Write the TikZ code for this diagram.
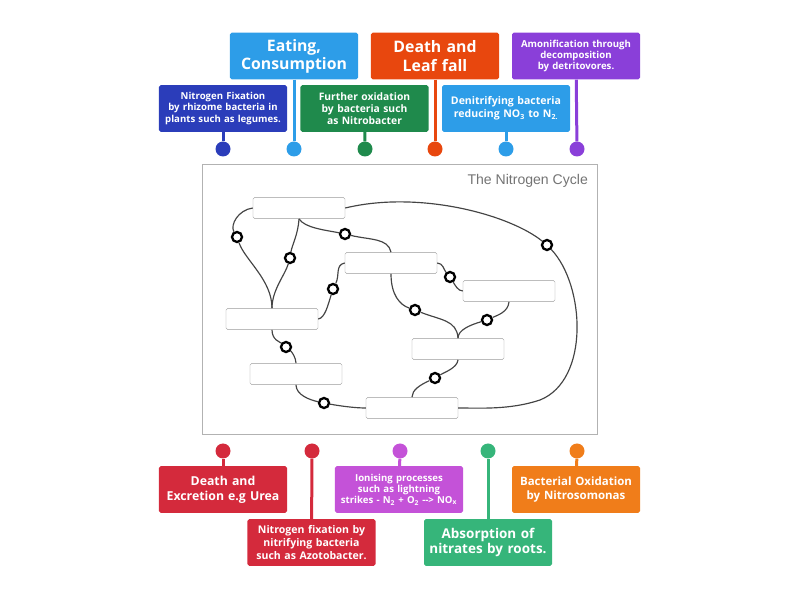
\documentclass[tikz,border=0pt]{standalone}
\usepackage{fontspec}
\setmainfont{Open Sans}
\newfontfamily\arialish{Liberation Sans}
\definecolor{navy}{HTML}{2B3DBA}
\definecolor{skyb}{HTML}{2D9DE8}
\definecolor{leaf}{HTML}{1F8A4C}
\definecolor{flame}{HTML}{E8470E}
\definecolor{violet}{HTML}{8A3FD9}
\definecolor{crimson}{HTML}{D42A3C}
\definecolor{orchid}{HTML}{C452D8}
\definecolor{mint}{HTML}{36B57A}
\definecolor{amber}{HTML}{F07D1A}
\definecolor{wire}{HTML}{444444}
\begin{document}
\begin{tikzpicture}[x=0.03cm,y=-0.03cm,
  slot/.style={draw=gray!80, rounded corners=1.5pt, minimum width=2.76cm, minimum height=0.64cm, inner sep=0pt},
  ring/.style={circle, draw=black, line width=0.7mm, fill=white, inner sep=0pt, minimum size=0.3cm},
  link/.style={draw=wire, line width=0.35mm},
  tag/.style={rounded corners=1.5pt, text=white, font=\bfseries\fontsize{8.2}{9.6}\selectfont, align=center, minimum width=3.84cm, minimum height=1.4cm, inner sep=1pt, text width=3.75cm},
  bigtag/.style={tag, font=\bfseries\fontsize{13.5}{15.5}\selectfont},
  pin/.style={circle, inner sep=0pt, minimum size=0.45cm},
  stem/.style={line width=0.9mm}]
  \useasboundingbox (0,0) rectangle (800,600);

  % frame
  \node[draw=gray!60, line width=0.3mm, minimum width=11.82cm, minimum height=8.07cm, inner sep=0pt] (frame) at (400,299.5) {};
  \node[anchor=north east, text=gray!90!black, font=\arialish\fontsize{12}{13}\selectfont] (title) at (592,170) {The Nitrogen Cycle};

  % slots
  \node[slot] (s1) at (299,208) {};
  \node[slot] (s2) at (391,263) {};
  \node[slot] (s3) at (509,291) {};
  \node[slot] (s4) at (272,319) {};
  \node[slot] (s5) at (458,349) {};
  \node[slot] (s6) at (296,374) {};
  \node[slot] (s7) at (412,408) {};

  % rings
  \node[ring] (r1) at (237,237) {};
  \node[ring] (r2) at (290,258) {};
  \node[ring] (r3) at (345,234) {};
  \node[ring] (r4) at (547,245) {};
  \node[ring] (r5) at (333,289) {};
  \node[ring] (r6) at (450,277) {};
  \node[ring] (r7) at (415,310) {};
  \node[ring] (r8) at (487,320) {};
  \node[ring] (r9) at (435,378) {};
  \node[ring] (r10) at (286,347) {};
  \node[ring] (r11) at (324,403) {};

  % cycle curves
  \draw[link] (s1.west) .. controls (238,210) and (230,225) .. (r1);
  \draw[link] (r1) .. controls (245,260) and (272,280) .. (s4.north);
  \draw[link] (s1.south) .. controls (298,235) and (292,245) .. (r2);
  \draw[link] (r2) .. controls (285,275) and (272,290) .. (s4.north);
  \draw[link] (s1.south) .. controls (305,228) and (325,230) .. (r3);
  \draw[link] (r3) .. controls (370,240) and (388,238) .. (s2.north);
  \draw[link] (s1.east) .. controls (420,190) and (510,215) .. (r4);
  \draw[link] (r4) .. controls (585,285) and (590,380) .. (540,400) .. controls (510,410) and (480,408) .. (s7.east);
  \draw[link] (s2.west) .. controls (335,265) and (340,275) .. (r5);
  \draw[link] (r5) .. controls (328,305) and (325,318) .. (s4.east);
  \draw[link] (s2.east) .. controls (443,263) and (444,270) .. (r6);
  \draw[link] (r6) .. controls (455,285) and (458,291) .. (s3.west);
  \draw[link] (s2.south) .. controls (391,295) and (400,305) .. (r7);
  \draw[link] (r7) .. controls (440,320) and (457,320) .. (s5.north);
  \draw[link] (s3.south) .. controls (508,312) and (498,315) .. (r8);
  \draw[link] (r8) .. controls (470,325) and (458,330) .. (s5.north);
  \draw[link] (s5.south) .. controls (457,368) and (445,372) .. (r9);
  \draw[link] (r9) .. controls (420,385) and (412,390) .. (s7.north);
  \draw[link] (s4.south) .. controls (272,340) and (280,342) .. (r10);
  \draw[link] (r10) .. controls (292,352) and (296,358) .. (s6.north);
  \draw[link] (s6.south) .. controls (296,395) and (310,400) .. (r11);
  \draw[link] (r11) .. controls (340,406) and (355,408) .. (s7.west);

  % top labels
  \node[bigtag, fill=skyb] (eat) at (294,56) {Eating,\\Consumption};
  \node[bigtag, fill=flame] (death) at (435,56) {Death and\\Leaf fall};
  \node[tag, fill=violet] (amon) at (576,56) {Amonification through\\decomposition\\by detritovores.};
  \node[tag, fill=navy] (fix) at (223,108.5) {Nitrogen Fixation\\by rhizome bacteria in\\plants such as legumes.};
  \node[tag, fill=leaf, font=\bfseries\fontsize{8.8}{10.2}\selectfont] (oxid) at (364.5,108.5) {Further oxidation\\by bacteria such\\as Nitrobacter};
  \node[tag, fill=skyb, font=\bfseries\fontsize{9}{11}\selectfont] (denit) at (506,108.5) {Denitrifying bacteria\\reducing NO\textsubscript{3} to N\textsubscript{2.}};

  \node[pin, fill=navy] (p1) at (223,149) {};
  \node[pin, fill=skyb] (p2) at (294,149) {};
  \node[pin, fill=leaf] (p3) at (365,149) {};
  \node[pin, fill=flame] (p4) at (435,149) {};
  \node[pin, fill=skyb] (p5) at (506,149) {};
  \node[pin, fill=violet] (p6) at (577,149) {};
  \draw[stem, navy] (fix) -- (p1);
  \draw[stem, skyb] (eat) -- (p2);
  \draw[stem, leaf] (oxid) -- (p3);
  \draw[stem, flame] (death) -- (p4);
  \draw[stem, skyb] (denit) -- (p5);
  \draw[stem, violet] (amon) -- (p6);

  % bottom labels
  \node[tag, fill=crimson, font=\bfseries\fontsize{10.5}{12.5}\selectfont] (excr) at (223,489.5) {Death and\\Excretion e.g Urea};
  \node[tag, fill=crimson, font=\bfseries\fontsize{9}{10.8}\selectfont] (azot) at (311.5,542.5) {Nitrogen fixation by\\nitrifying bacteria\\such as Azotobacter.};
  \node[tag, fill=orchid] (ion) at (399,489.5) {Ionising processes\\such as lightning\\strikes - N\textsubscript{2} + O\textsubscript{2} -{}-> NO\textsubscript{x}};
  \node[tag, fill=mint, font=\bfseries\fontsize{11.5}{13.5}\selectfont] (absb) at (488,542.5) {Absorption of\\nitrates by roots.};
  \node[tag, fill=amber, font=\bfseries\fontsize{9.8}{12}\selectfont] (nitro) at (576,489.5) {Bacterial Oxidation\\by Nitrosomonas};

  \node[pin, fill=crimson] (q1) at (223,451) {};
  \node[pin, fill=crimson] (q2) at (312,451) {};
  \node[pin, fill=orchid] (q3) at (400,451) {};
  \node[pin, fill=mint] (q4) at (488,451) {};
  \node[pin, fill=amber] (q5) at (577,451) {};
  \draw[stem, crimson] (excr) -- (q1);
  \draw[stem, crimson] (azot) -- (q2);
  \draw[stem, orchid] (ion) -- (q3);
  \draw[stem, mint] (absb) -- (q4);
  \draw[stem, amber] (nitro) -- (q5);
\end{tikzpicture}
\end{document}
